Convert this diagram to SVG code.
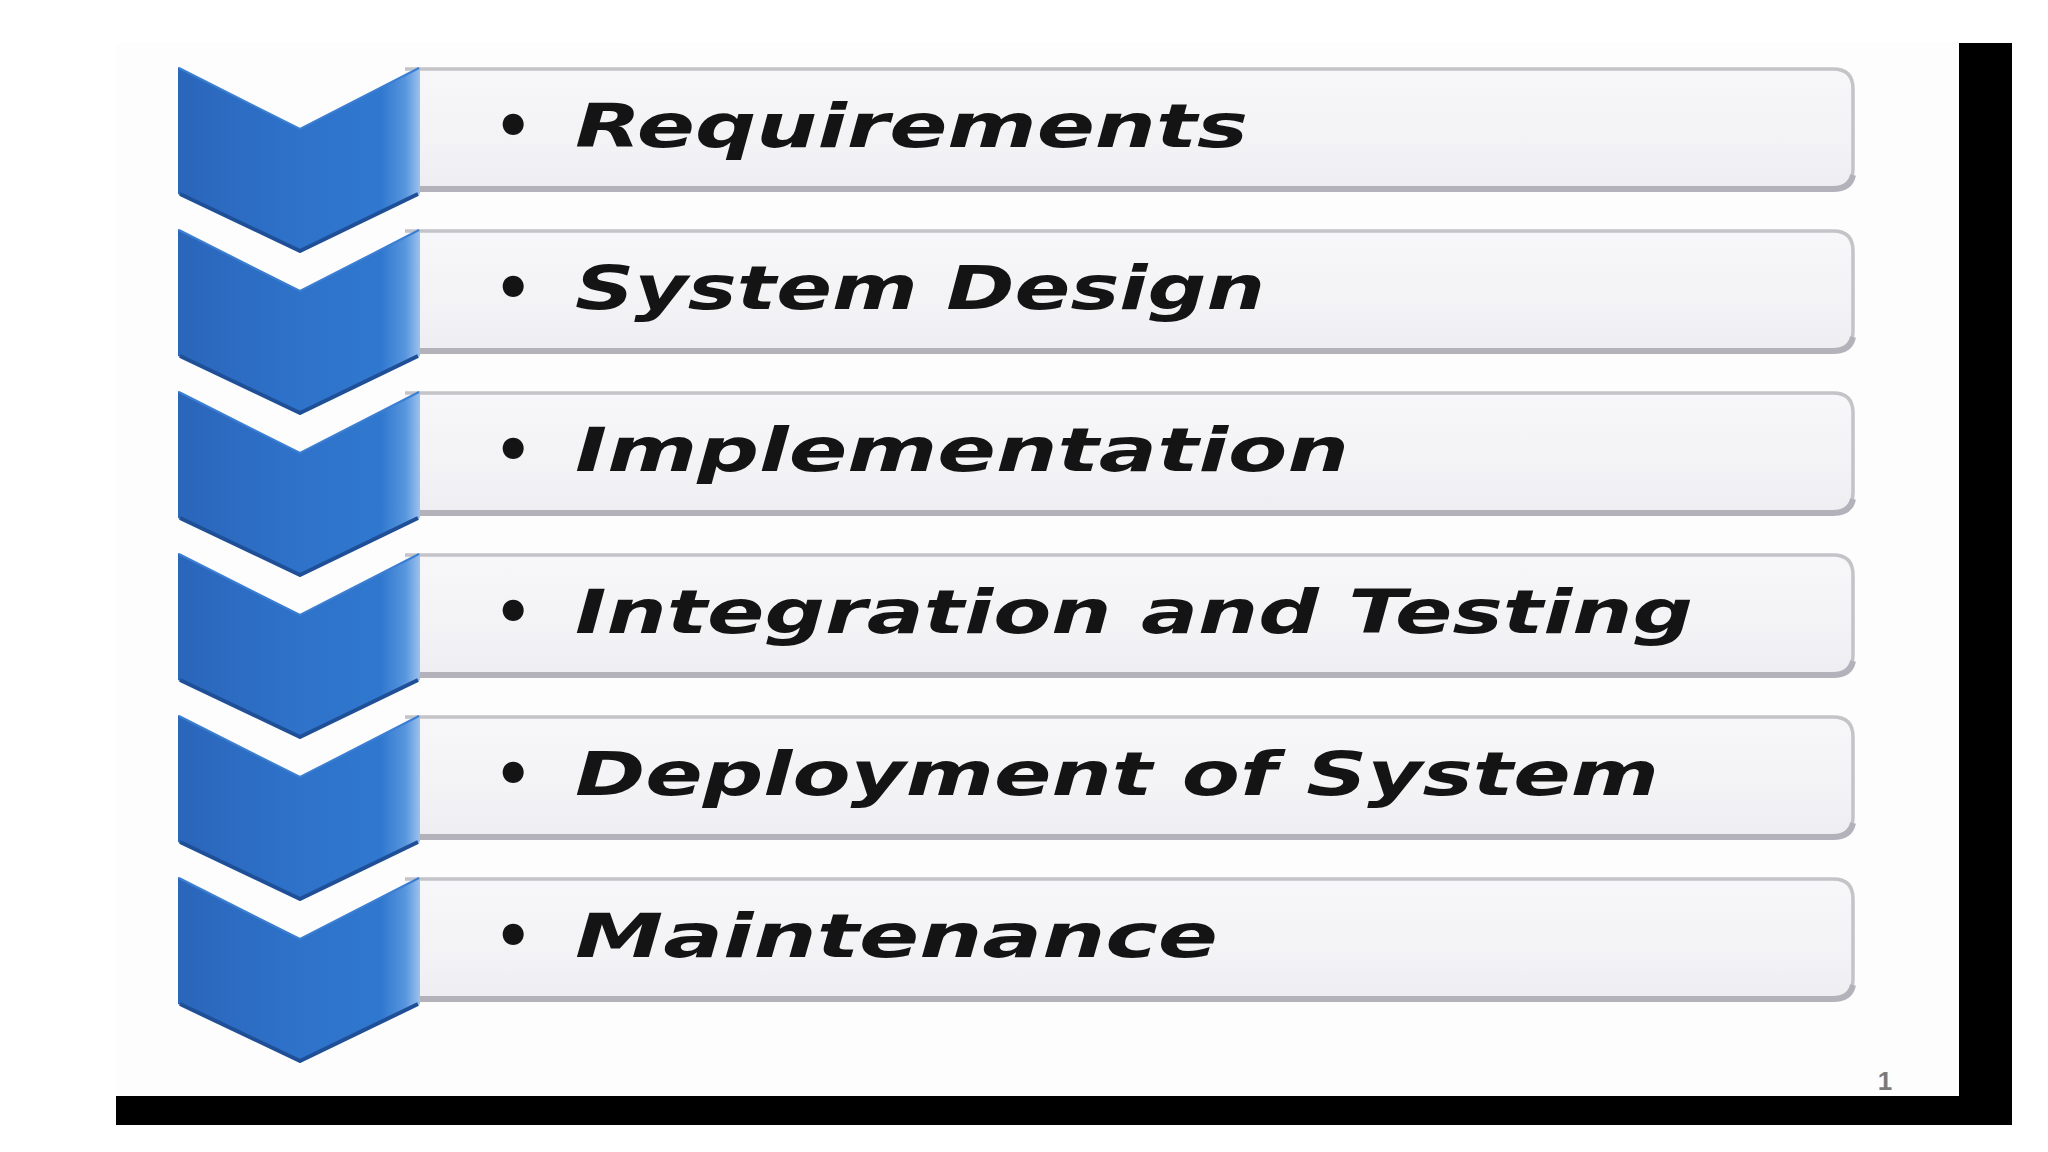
<svg xmlns="http://www.w3.org/2000/svg" width="2048" height="1152" viewBox="0 0 2048 1152">
<defs>
<linearGradient id="chevFill" x1="0" y1="0" x2="1" y2="0">
<stop offset="0" stop-color="#2a66ba"/>
<stop offset="0.45" stop-color="#2e71c9"/>
<stop offset="0.84" stop-color="#3078cf"/>
<stop offset="0.94" stop-color="#5896de"/>
<stop offset="1" stop-color="#9cc2ee"/>
</linearGradient>
<linearGradient id="barFill" x1="0" y1="0" x2="0" y2="1">
<stop offset="0" stop-color="#f7f7f9"/>
<stop offset="0.6" stop-color="#f3f3f6"/>
<stop offset="1" stop-color="#eeeef2"/>
</linearGradient>
<g id="chevronShape">
<path d="M178,67 L300,129 L420,67 L420,194 L300,251 L178,194 Z" fill="url(#chevFill)"/>
<path d="M180,194 L300,251 L418,194" fill="none" stroke="#1f4f97" stroke-width="4" stroke-linejoin="round"/>
<path d="M179,68 L300,129 L419,68" fill="none" stroke="#3c7fd2" stroke-width="2"/>
</g>
<g id="barShape">
<path d="M405,69 H1833 Q1853,69 1853,89 V169 Q1853,189 1833,189 H405 Z" fill="url(#barFill)"/>
<path d="M405,69 H1833 Q1853,69 1853,89 V169 Q1853,189 1833,189 H405" fill="none" stroke="#c4c4c8" stroke-width="3.5"/>
<path d="M405,189 H1833 Q1850,189 1853,175" fill="none" stroke="#b3b2ba" stroke-width="6"/>
</g>
</defs>
<style>
.lbl{font-family:"DejaVu Sans","Verdana",sans-serif;font-weight:bold;font-style:italic;font-size:60px;fill:#141414}
.bul{font-family:"DejaVu Sans",sans-serif;font-weight:bold;font-size:60px;fill:#141414}
</style>
<rect x="0" y="0" width="2048" height="1152" fill="#ffffff"/>
<rect x="116" y="43" width="1843" height="1053" fill="#fdfdfd"/>
<rect x="1959" y="43" width="53" height="1082" fill="#000000"/>
<rect x="116" y="1096" width="1896" height="29" fill="#000000"/>

<g id="node-requirements">
<use href="#barShape"/>
<use href="#chevronShape"/>
<text class="bul" x="494" y="147">•</text>
<text class="lbl" x="575" y="147" textLength="673" lengthAdjust="spacingAndGlyphs">Requirements</text>
</g>
<g id="node-system-design" transform="translate(0,162)">
<use href="#barShape"/>
<use href="#chevronShape"/>
<text class="bul" x="494" y="147">•</text>
<text class="lbl" x="575" y="147" textLength="690" lengthAdjust="spacingAndGlyphs">System Design</text>
</g>
<g id="node-implementation" transform="translate(0,324)">
<use href="#barShape"/>
<use href="#chevronShape"/>
<text class="bul" x="494" y="147">•</text>
<text class="lbl" x="575" y="147" textLength="774" lengthAdjust="spacingAndGlyphs">Implementation</text>
</g>
<g id="node-integration-testing" transform="translate(0,486)">
<use href="#barShape"/>
<use href="#chevronShape"/>
<text class="bul" x="494" y="147">•</text>
<text class="lbl" x="575" y="147" textLength="1118" lengthAdjust="spacingAndGlyphs">Integration and Testing</text>
</g>
<g id="node-deployment" transform="translate(0,648)">
<use href="#barShape"/>
<use href="#chevronShape"/>
<text class="bul" x="494" y="147">•</text>
<text class="lbl" x="575" y="147" textLength="1084" lengthAdjust="spacingAndGlyphs">Deployment of System</text>
</g>
<g id="node-maintenance" transform="translate(0,810)">
<use href="#barShape"/>
<use href="#chevronShape"/>
<text class="bul" x="494" y="147">•</text>
<text class="lbl" x="575" y="147" textLength="643" lengthAdjust="spacingAndGlyphs">Maintenance</text>
</g>
<g id="connectors"></g>
<text x="1885" y="1090" font-family="Liberation Sans, sans-serif" font-weight="bold" font-size="26" fill="#7a7a7a" text-anchor="middle">1</text>
</svg>
